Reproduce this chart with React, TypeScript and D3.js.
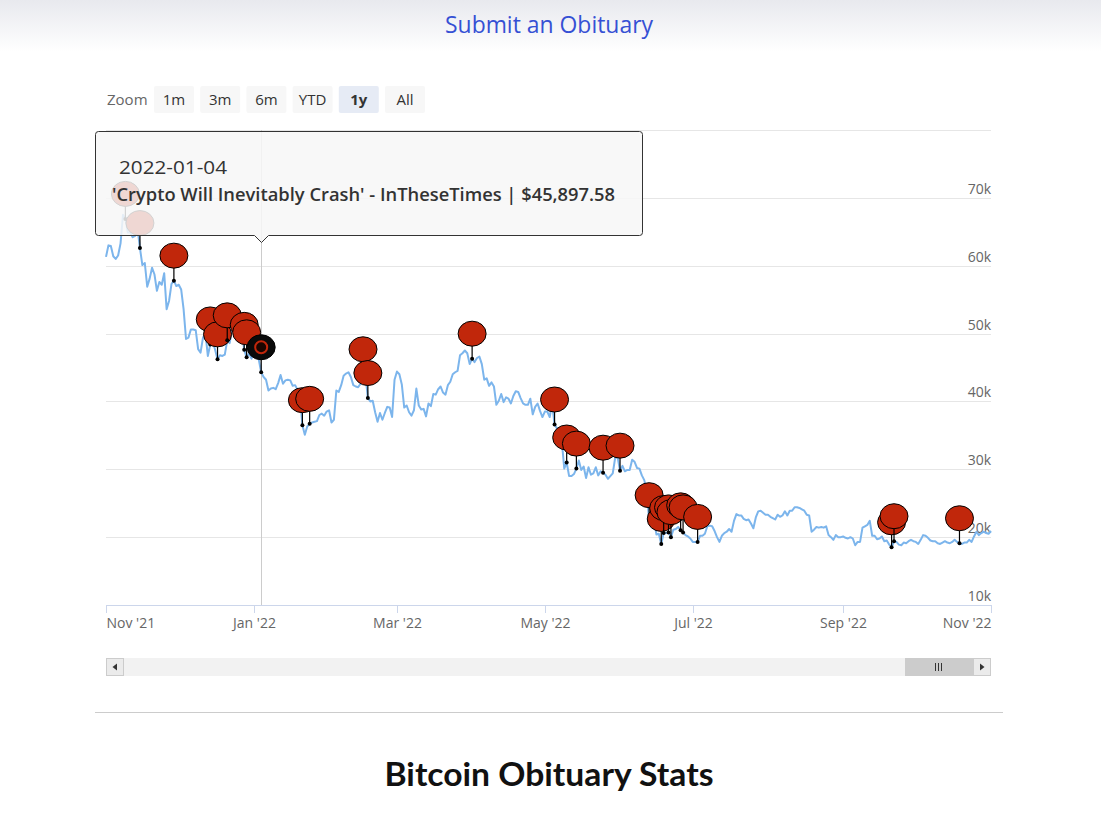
import * as d3 from 'd3';
import * as React from 'react';

// daily BTC close, in thousands of USD
const nov21 = [61.3, 63.0, 62.9, 61.4, 61.0, 61.5, 63.3, 67.5, 66.9, 64.9, 64.9, 64.2, 64.4, 65.5, 62.6, 60.1, 60.4, 56.9, 58.1, 59.7, 58.7, 56.3, 57.6, 57.2, 58.9, 53.6, 54.8, 57.3, 57.8, 57.0];
const dec21 = [57.2, 56.5, 53.6, 49.2, 49.4, 50.6, 50.6, 50.5, 47.7, 47.2, 49.4, 50.1, 46.7, 48.4, 48.9, 47.6, 46.2, 46.8, 46.7, 46.9, 49.0, 48.6, 50.8, 50.4, 50.8, 50.6, 50.6, 47.6, 46.5, 47.1, 46.3];
const jan22 = [47.7, 47.3, 46.2, 44.3, 43.6, 43.2, 41.6, 41.9, 42.0, 41.8, 42.7, 43.9, 42.6, 43.1, 43.2, 43.1, 42.3, 42.4, 41.7, 40.7, 36.5, 35.1, 36.3, 36.7, 36.9, 37.0, 37.1, 38.0, 38.2, 37.9, 38.5];
const feb22 = [38.7, 36.9, 37.3, 41.6, 41.4, 42.4, 43.8, 44.1, 44.3, 43.6, 42.4, 42.2, 42.1, 42.6, 44.0, 43.9, 40.5, 40.0, 40.1, 38.4, 37.0, 38.3, 37.3, 38.3, 39.2, 39.1, 37.7, 43.2];
const mar22 = [44.4, 44.0, 42.5, 39.1, 39.4, 38.4, 37.9, 38.7, 41.9, 39.4, 38.8, 38.9, 37.8, 39.7, 39.3, 41.1, 41.0, 41.8, 42.2, 41.3, 41.0, 42.4, 42.9, 44.0, 44.3, 44.5, 46.8, 47.1, 47.5, 47.1, 45.5];
const apr22 = [46.3, 45.8, 46.4, 46.6, 45.5, 43.2, 43.4, 42.3, 42.8, 42.2, 39.5, 40.1, 41.1, 39.9, 40.6, 40.4, 39.7, 40.8, 41.5, 41.4, 40.5, 39.7, 39.5, 39.5, 40.4, 38.1, 39.2, 39.7, 38.6, 37.7];
const may22 = [38.5, 38.5, 37.7, 39.7, 36.6, 36.0, 35.5, 34.1, 30.1, 31.0, 29.0, 29.0, 29.3, 30.1, 31.3, 29.9, 30.4, 28.7, 30.3, 29.2, 29.4, 30.3, 29.1, 29.7, 29.5, 29.2, 28.6, 29.0, 29.4, 31.7, 31.8];
const jun22 = [29.8, 30.5, 29.7, 29.9, 29.9, 31.4, 31.1, 30.2, 30.1, 29.1, 28.4, 26.8, 22.5, 22.2, 22.6, 20.4, 20.5, 19.0, 20.6, 20.6, 20.7, 20.0, 21.1, 21.2, 21.5, 21.0, 20.7, 20.3, 20.1, 19.8];
const jul22 = [19.3, 19.3, 19.3, 20.2, 20.2, 20.5, 21.6, 21.7, 21.6, 20.9, 20.0, 19.3, 20.2, 20.6, 20.8, 21.2, 20.8, 22.4, 23.4, 23.2, 23.2, 22.7, 22.5, 22.6, 22.0, 21.3, 22.9, 23.8, 23.9, 23.6, 23.3];
const aug22 = [23.3, 23.0, 22.8, 22.6, 23.3, 23.0, 23.2, 23.8, 23.2, 23.9, 23.9, 24.4, 24.4, 24.3, 24.1, 23.9, 23.3, 23.2, 20.8, 21.1, 21.5, 21.4, 21.5, 21.4, 21.6, 20.3, 20.0, 19.6, 20.3, 20.0, 20.0];
const sep22 = [20.1, 19.9, 19.8, 20.0, 19.8, 18.8, 19.3, 19.3, 21.4, 21.6, 21.8, 22.4, 20.2, 20.2, 19.7, 19.8, 20.1, 19.4, 19.5, 18.9, 18.5, 19.4, 19.3, 18.9, 18.8, 19.2, 19.1, 19.4, 19.6, 19.4];
const oct22 = [19.3, 19.0, 19.6, 20.3, 20.2, 19.9, 19.5, 19.4, 19.4, 19.1, 19.0, 19.2, 19.4, 19.2, 19.1, 19.3, 19.6, 19.3, 19.1, 19.0, 19.2, 19.2, 19.6, 19.3, 20.1, 20.8, 20.3, 20.6, 20.8, 20.6, 20.5];
const nov22 = [20.9];

const monthSeries: [number, number, number[]][] = [
  [2021, 10, nov21], [2021, 11, dec21], [2022, 0, jan22], [2022, 1, feb22],
  [2022, 2, mar22], [2022, 3, apr22], [2022, 4, may22], [2022, 5, jun22],
  [2022, 6, jul22], [2022, 7, aug22], [2022, 8, sep22], [2022, 9, oct22],
  [2022, 10, nov22],
];

const obituaryDates = [
  '2021-11-09', '2021-11-15', '2021-11-29',
  '2021-12-14', '2021-12-17', '2021-12-21', '2021-12-28', '2021-12-29',
  '2022-01-21', '2022-01-24', '2022-02-15', '2022-02-17', '2022-04-01',
  '2022-05-05', '2022-05-10', '2022-05-14', '2022-05-25', '2022-06-01',
  '2022-06-13', '2022-06-18', '2022-06-19', '2022-06-21', '2022-06-22',
  '2022-06-26', '2022-06-27', '2022-07-03',
  '2022-09-21', '2022-09-22', '2022-10-19',
];

const hovered = {
  date: '2022-01-04',
  title: "'Crypto Will Inevitably Crash' - InTheseTimes",
  price: 45897.58,
};

const zoomButtons = ['1m', '3m', '6m', 'YTD', '1y', 'All'];
const selectedZoom = '1y';
const yTickValues = [10000, 20000, 30000, 40000, 50000, 60000, 70000, 80000];

interface IPoint { date: Date; value: number; }

const points: IPoint[] = [];
monthSeries.forEach(([yr, mo, vals]) => {
  vals.forEach((v, i) => points.push({ date: new Date(Date.UTC(yr, mo, i + 1)), value: v * 1000 }));
});
const byDay = new Map(points.map((p) => [d3.utcFormat('%Y-%m-%d')(p.date), p]));

const W = 1101;
const H = 813;
const plot = { left: 106, right: 991, top: 130, bottom: 605 };
const FONT = "'Open Sans', sans-serif";
const FLAG_RED = '#c1270b';

const x = d3.scaleUtc()
  .domain([new Date(Date.UTC(2021, 10, 1)), new Date(Date.UTC(2022, 10, 1))])
  .range([plot.left, plot.right]);
const y = d3.scaleLinear().domain([10000, 80000]).range([plot.bottom, plot.top]);

const lineGen = d3.line<IPoint>().x((d) => x(d.date)).y((d) => y(d.value));

const Flag = ({ dateKey, active }: { dateKey: string; active?: boolean }) => {
  const p = byDay.get(dateKey);
  if (!p) return null;
  const px = x(p.date);
  const py = y(p.value);
  const cy = py - 25;
  return (
    <g>
      <line x1={px} x2={px} y1={cy} y2={py} stroke="#000" strokeWidth={1.2} />
      <circle cx={px} cy={py} r={2} fill="#000" />
      <ellipse cx={px} cy={cy} rx={14} ry={12.5} fill={active ? '#0a0a0a' : FLAG_RED} stroke="#000" strokeWidth={1} />
      {active && <circle cx={px} cy={cy} r={6} fill="#1a0500" stroke={FLAG_RED} strokeWidth={2} />}
    </g>
  );
};

const App = () => {
  const xTicks = d3.utcMonth.every(2)!.range(x.domain()[0], d3.utcDay.offset(x.domain()[1], 1));
  const fmtX = d3.utcFormat("%b '%y");
  const hoverX = Math.round(x(new Date(hovered.date))) + 0.5;

  const tb = { x0: 95.5, y0: 131.5, x1: 642.5, y1: 235.5, r: 3 };
  const tipPath = `M${tb.x0 + tb.r},${tb.y0} H${tb.x1 - tb.r} Q${tb.x1},${tb.y0} ${tb.x1},${tb.y0 + tb.r}
    V${tb.y1 - tb.r} Q${tb.x1},${tb.y1} ${tb.x1 - tb.r},${tb.y1} H${hoverX + 7} L${hoverX},${tb.y1 + 7}
    L${hoverX - 7},${tb.y1} H${tb.x0 + tb.r} Q${tb.x0},${tb.y1} ${tb.x0},${tb.y1 - tb.r}
    V${tb.y0 + tb.r} Q${tb.x0},${tb.y0} ${tb.x0 + tb.r},${tb.y0} Z`;

  return (
    <svg width={W} height={H} style={{ position: 'absolute', left: 0, top: 0, background: '#fff' }}>
      <defs>
        <linearGradient id="topfade" x1="0" y1="0" x2="0" y2="1">
          <stop offset="0" stopColor="#e8e9ee" />
          <stop offset="1" stopColor="#ffffff" />
        </linearGradient>
      </defs>
      <rect x={0} y={0} width={W} height={52} fill="url(#topfade)" />
      <text x={549} y={33} textAnchor="middle" fontFamily={FONT} fontSize={24} fill="#3550d4"
        textLength={208} lengthAdjust="spacingAndGlyphs">Submit an Obituary</text>

      {/* range selector */}
      <text x={107} y={105} fontFamily={FONT} fontSize={15} fill="#666">Zoom</text>
      {zoomButtons.map((b, i) => (
        <g key={b} transform={`translate(${154 + i * 46.2},86)`}>
          <rect width={40} height={27} rx={2} fill={b === selectedZoom ? '#e6ebf5' : '#f7f7f7'} />
          <text x={20} y={19} textAnchor="middle" fontFamily={FONT} fontSize={15}
            fontWeight={b === selectedZoom ? 700 : 400} fill="#333">{b}</text>
        </g>
      ))}

      {/* grid + y labels */}
      {yTickValues.map((v) => (
        <line key={v} x1={plot.left} x2={plot.right} y1={Math.round(y(v)) + 0.5} y2={Math.round(y(v)) + 0.5}
          stroke="#e6e6e6" />
      ))}
      {yTickValues.filter((v) => v < 80000).map((v) => (
        <text key={v} x={plot.right} y={y(v) - 4} textAnchor="end" fontFamily={FONT} fontSize={14} fill="#666">
          {`${v / 1000}k`}
        </text>
      ))}

      {/* crosshair */}
      <line x1={hoverX} x2={hoverX} y1={plot.top} y2={plot.bottom} stroke="#cccccc" strokeWidth={1} />

      <path d={lineGen(points) || ''} fill="none" stroke="#7cb5ec" strokeWidth={2} strokeLinejoin="round" />

      {obituaryDates.map((d) => <Flag key={d} dateKey={d} />)}
      <Flag dateKey={hovered.date} active />

      {/* x axis */}
      <line x1={plot.left} x2={plot.right} y1={plot.bottom + 0.5} y2={plot.bottom + 0.5} stroke="#ccd6eb" />
      {xTicks.map((t, i) => {
        const tx = Math.round(x(t)) + 0.5;
        const anchor = i === 0 ? 'start' : i === xTicks.length - 1 ? 'end' : 'middle';
        return (
          <g key={i}>
            <line x1={tx} x2={tx} y1={plot.bottom} y2={plot.bottom + 8} stroke="#ccd6eb" />
            <text x={tx} y={628} textAnchor={anchor} fontFamily={FONT} fontSize={14} fill="#666">{fmtX(t)}</text>
          </g>
        );
      })}

      {/* scrollbar */}
      <g>
        <rect x={106} y={658} width={885} height={18} fill="#f2f2f2" />
        <rect x={106.5} y={658.5} width={17} height={17} fill="#ebebeb" stroke="#cccccc" />
        <path d="M117,663.5 L112.5,667 L117,670.5 Z" fill="#333" />
        <rect x={905} y={658} width={68} height={18} fill="#cccccc" />
        {[935.5, 938.5, 941.5].map((gx) => (
          <line key={gx} x1={gx} x2={gx} y1={663} y2={671} stroke="#333" />
        ))}
        <rect x={973.5} y={658.5} width={17} height={17} fill="#ebebeb" stroke="#cccccc" />
        <path d="M980,663.5 L984.5,667 L980,670.5 Z" fill="#333" />
      </g>

      {/* tooltip */}
      <path d={tipPath} fill="rgba(247,247,247,0.85)" stroke="#333" strokeWidth={1} />
      <text x={119} y={174} fontFamily={FONT} fontSize={18} fill="#333"
        textLength={108} lengthAdjust="spacingAndGlyphs">{hovered.date}</text>
      <text x={112} y={201} fontFamily={FONT} fontSize={18} fontWeight={600} fill="#333"
        textLength={503} lengthAdjust="spacingAndGlyphs">
        {`${hovered.title} | ${d3.format('$,.2f')(hovered.price)}`}
      </text>

      <line x1={95} x2={1003} y1={712.5} y2={712.5} stroke="#cccccc" />
      <text x={549} y={786} textAnchor="middle" fontFamily="Lato, sans-serif" fontSize={32} fontWeight={700}
        fill="#111" textLength={329} lengthAdjust="spacingAndGlyphs">Bitcoin Obituary Stats</text>
    </svg>
  );
};

export default App;
